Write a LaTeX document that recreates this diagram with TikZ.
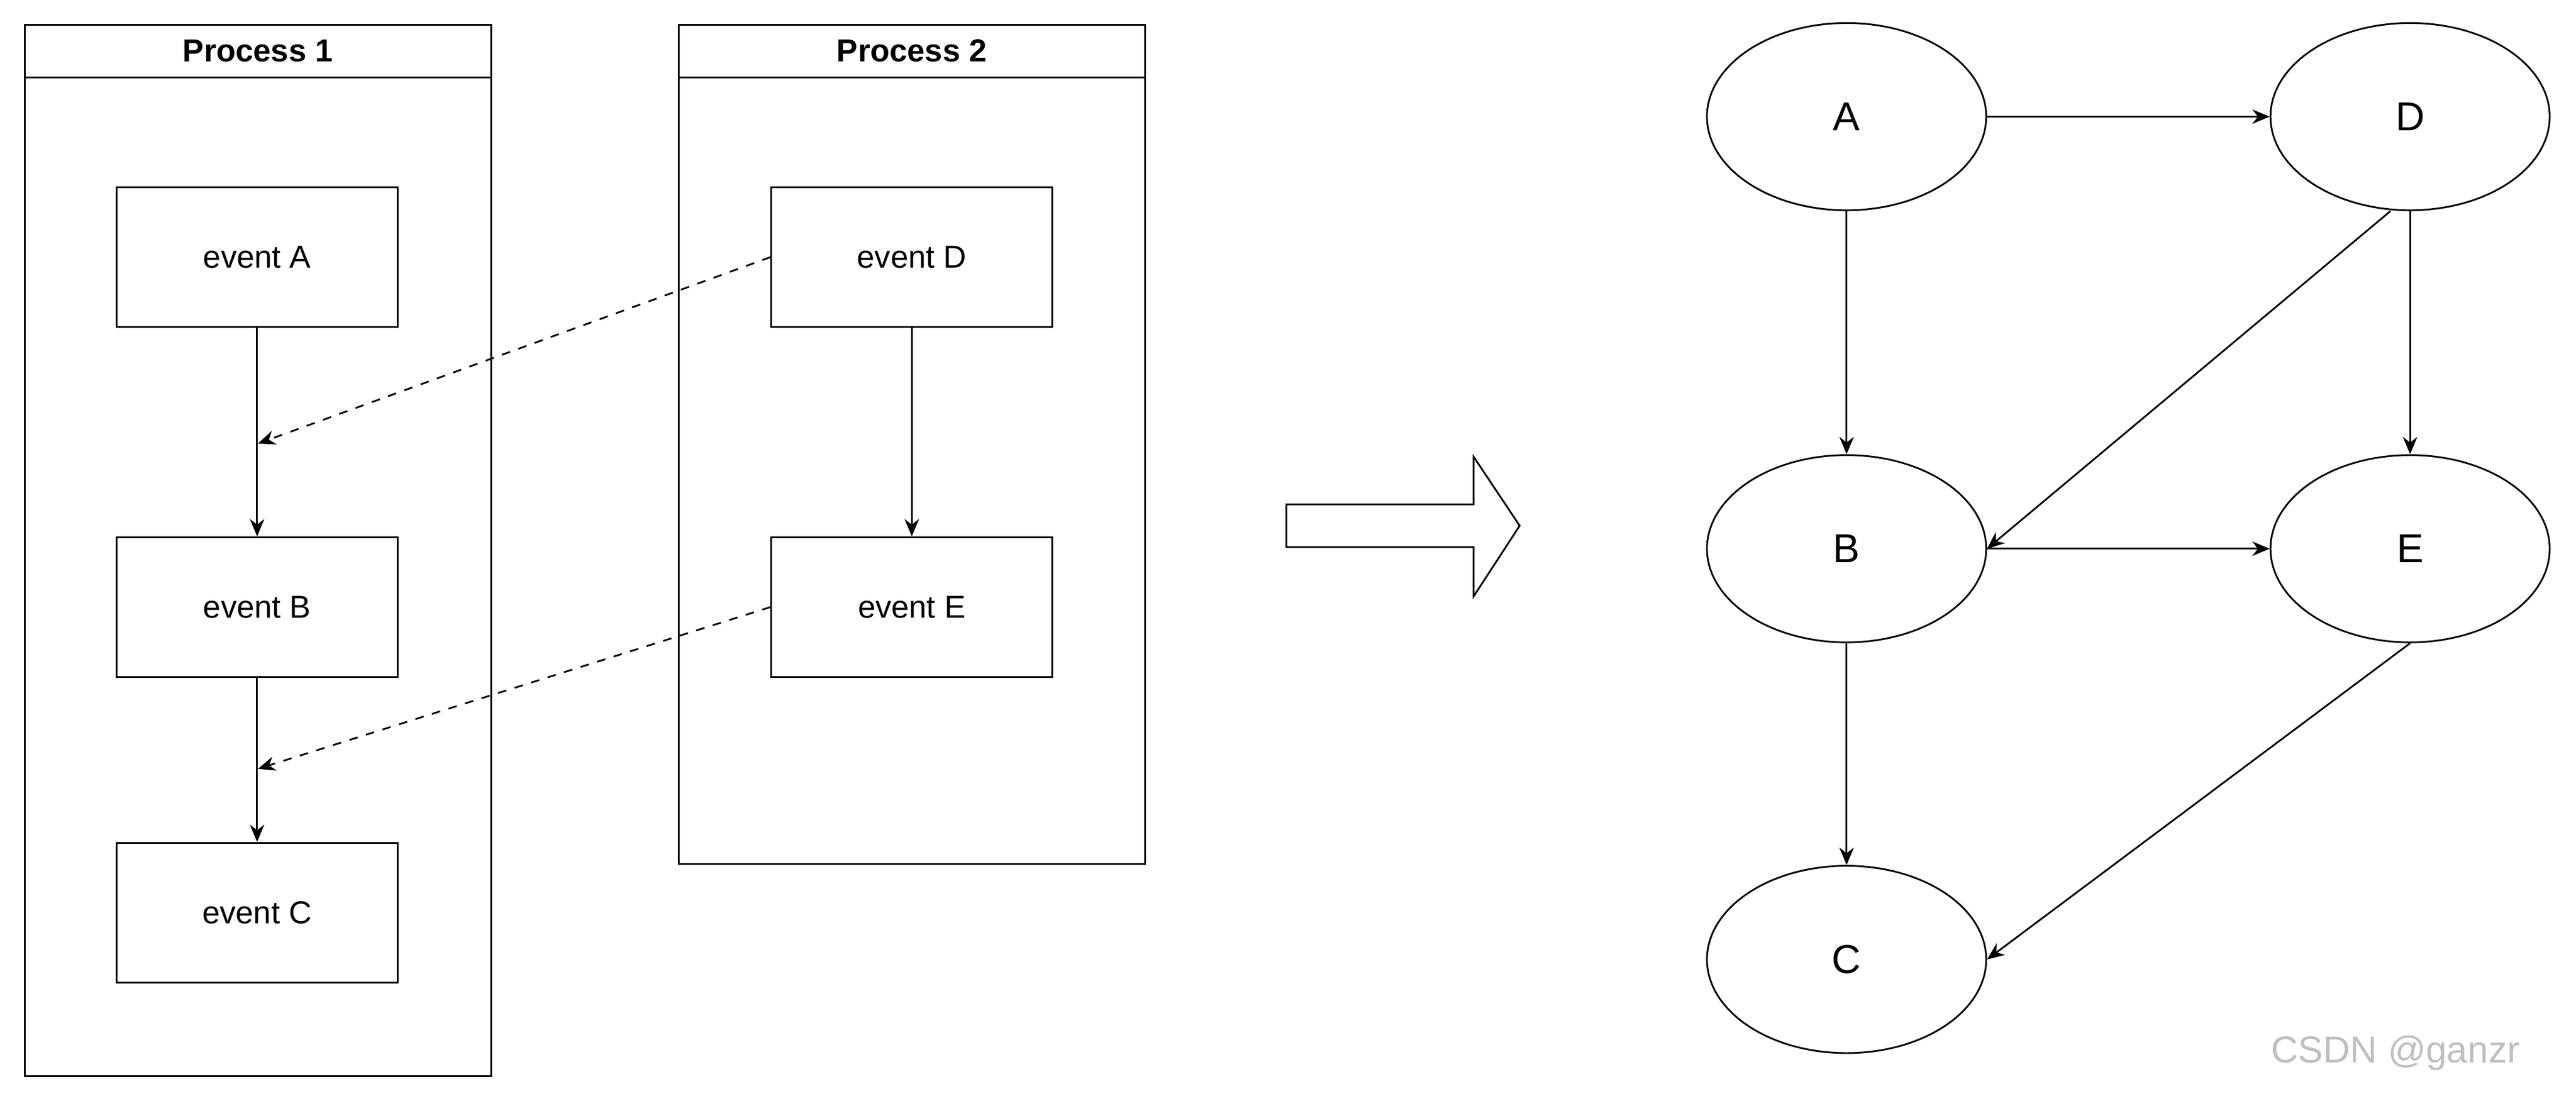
\documentclass[tikz,border=0pt]{standalone}
\usepackage{fontspec}
\setmainfont{Liberation Sans}
\usetikzlibrary{shapes.geometric,arrows.meta}
\begin{document}
\begin{tikzpicture}[x=0.02cm,y=-0.02cm,
  lw/.style={line width=0.6pt},
  ev/.style={draw,lw,minimum width=3.42cm,minimum height=1.7cm,inner sep=0,font=\fontsize{11}{13}\selectfont},
  el/.style={draw,lw,ellipse,minimum width=3.4cm,minimum height=2.28cm,inner sep=0,font=\fontsize{14}{16}\selectfont},
  ar/.style={lw,-{Stealth[length=6pt,width=5pt]}},
  hd/.style={font=\bfseries\fontsize{11}{13}\selectfont}]
\useasboundingbox (0,0) rectangle (1568,670);
% processes
\draw[lw] (15,15) rectangle (299,655); \draw[lw] (15,47) -- (299,47);
\node[hd] (p1) at (157,31) {Process 1};
\draw[lw] (413,15) rectangle (697,526); \draw[lw] (413,47) -- (697,47);
\node[hd] (p2) at (555,31) {Process 2};
\node[ev] (a) at (156.5,156.5) {event A};
\node[ev] (b) at (156.5,369.5) {event B};
\node[ev] (c) at (156.5,555.5) {event C};
\node[ev] (d) at (555,156.5) {event D};
\node[ev] (e) at (555,369.5) {event E};
\draw[ar] (a) -- (b);
\draw[ar] (b) -- (c);
\draw[ar] (d) -- (e);
\coordinate (ab) at (157,270);
\coordinate (bc) at (157,468);
\draw[ar,dashed] (d.west) -- (ab);
\draw[ar,dashed] (e.west) -- (bc);
% big arrow
\draw[lw] (783,307) -- (897,307) -- (897,278) -- (925,320) -- (897,363) -- (897,333) -- (783,333) -- cycle;
% graph
\node[el] (A) at (1124,71) {A};
\node[el] (D) at (1467,71) {D};
\node[el] (B) at (1124,334) {B};
\node[el] (E) at (1467,334) {E};
\node[el] (C) at (1124,584) {C};
\draw[ar] (A) -- (D);
\draw[ar] (A) -- (B);
\draw[ar] (D.south) ++(-12,0) coordinate (ds) (ds) -- (B.east);
\draw[ar] (D) -- (E);
\draw[ar] (B) -- (E);
\draw[ar] (B) -- (C);
\draw[ar] (E.south) -- (C.east);
\node[text=black!25,font=\fontsize{13}{15}\selectfont,anchor=east] (wm) at (1540,641) {CSDN @ganzr};
\end{tikzpicture}
\end{document}
